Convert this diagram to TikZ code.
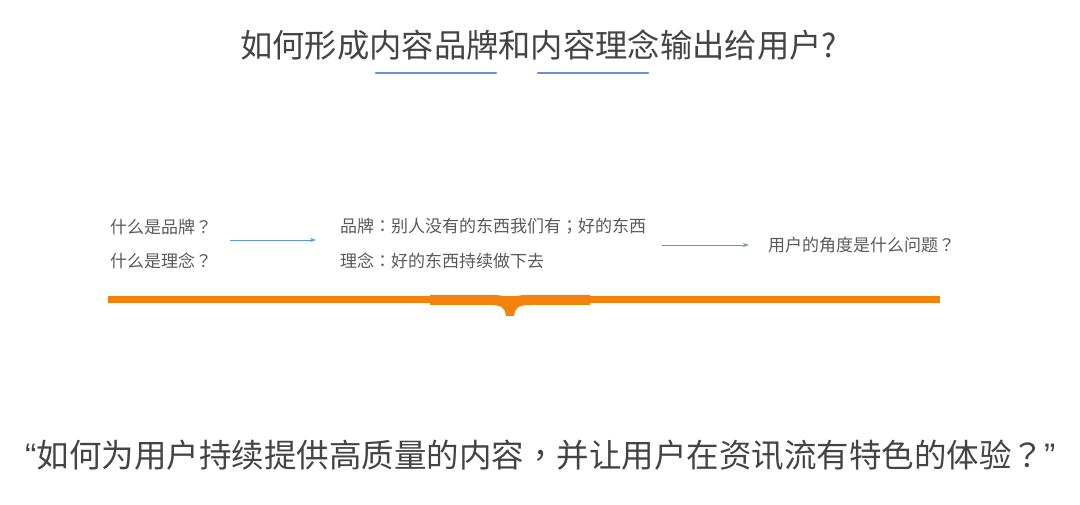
\documentclass[tikz,border=0pt]{standalone}
\usepackage{fontspec}
\newfontfamily\cjk{Noto Sans CJK SC}
\newfontfamily\pn{Noto Sans CJK TC}
\newfontfamily\latin{Liberation Sans}
\newcommand{\pq}{{\pn ？}}
\newcommand{\pc}{{\pn ：}}
\definecolor{txtgray}{RGB}{68,68,68}
\definecolor{midgray}{RGB}{90,90,90}
\definecolor{arrowblue}{RGB}{91,155,213}
\definecolor{ulblue}{RGB}{105,145,208}
\definecolor{brorange}{RGB}{242,130,12}
\usetikzlibrary{arrows.meta}
\tikzset{
  title/.style={font=\cjk\fontsize{32.3bp}{36bp}\selectfont, text=txtgray, inner sep=0pt, anchor=west},
  small/.style={font=\cjk\fontsize{17bp}{19bp}\selectfont, text=midgray, inner sep=0pt, anchor=west},
  bigq/.style={font=\cjk\fontsize{32.5bp}{36bp}\selectfont, text=txtgray, inner sep=0pt, anchor=west},
  flow/.style={draw=arrowblue, line width=0.9bp, -{Stealth[length=6bp,width=4bp]}},
  uline/.style={draw=ulblue, line width=2.2bp, line cap=round},
  bar/.style={draw=brorange, line width=7bp},
}
\begin{document}
\begin{tikzpicture}[x=1bp,y=-1bp]
\useasboundingbox[fill=white] (0,0) rectangle (1080,505);
% title
\node[title] (t) at (240,45) {如何形成内容品牌和内容理念输出给用户?};
\coordinate (u1a) at (376,73); \coordinate (u1b) at (496,73);
\coordinate (u2a) at (538,73); \coordinate (u2b) at (648,73);
\draw[uline] (u1a) -- (u1b);
\draw[uline] (u2a) -- (u2b);
% middle row
\node[small] (q1) at (110,227) {什么是品牌\pq};
\node[small] (q2) at (110,261) {什么是理念\pq};
\coordinate (a1s) at (230,240); \coordinate (a1e) at (316,240);
\draw[flow] (a1s) -- (a1e);
\node[small] (d1) at (340,226) {品牌\pc 别人没有的东西我们有{\pn ；}好的东西};
\node[small] (d2) at (340,261) {理念\pc 好的东西持续做下去};
\coordinate (a2s) at (662,245); \coordinate (a2e) at (749,245);
\draw[flow] (a2s) -- (a2e);
\node[small] (r) at (768,245) {用户的角度是什么问题\pq};
% orange brace bar
\coordinate (bl) at (108,300); \coordinate (br) at (940,300);
\draw[bar] (bl) -- (br);
\fill[brorange] (430,295) -- (494,295) .. controls (503,295) and (508,297) .. (510,302)
  .. controls (512,297) and (517,295) .. (526,295) -- (590,295) -- (590,305) -- (530,305)
  .. controls (518,305) and (515,308) .. (514,316) -- (506,316)
  .. controls (505,308) and (502,305) .. (490,305) -- (430,305) -- cycle;
% bottom question
\node[bigq] (b) at (25,455) {{\latin\fontsize{34bp}{36bp}\selectfont “}如何为用户持续提供高质量的内容{\pn ，}并让用户在资讯流有特色的体验\pq{\latin\fontsize{34bp}{36bp}\selectfont ”}};
\end{tikzpicture}
\end{document}
